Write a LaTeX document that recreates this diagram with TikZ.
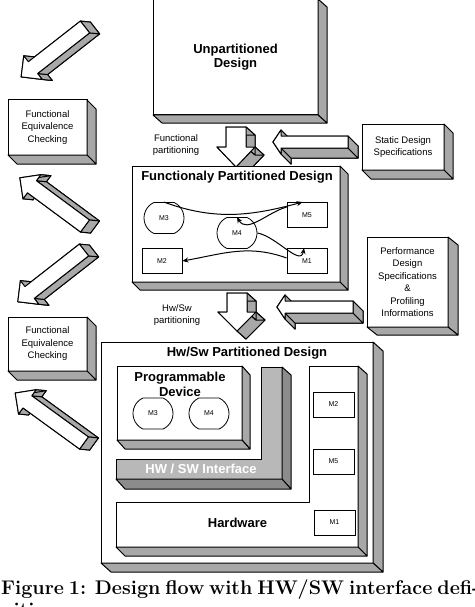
\documentclass[tikz,border=0pt]{standalone}
\usepackage{fontspec}
\setsansfont{Liberation Sans}
\usetikzlibrary{arrows.meta,shapes.misc}

\definecolor{sidegrey}{gray}{0.66}
\definecolor{ifacefront}{gray}{0.72}
\definecolor{ifaceside}{gray}{0.55}

\tikzset{
  slab/.style={draw, fill=white, line width=1pt, inner sep=0pt, outer sep=0pt, align=center},
  face/.style={draw, fill=sidegrey, line width=1pt, line join=round},
  outline/.style={draw, line width=1pt, line join=round},
  title/.style={font=\sffamily\bfseries\fontsize{13}{14.5}\selectfont, align=center},
  note/.style={font=\sffamily\fontsize{9.5}{12.5}\selectfont, align=center},
  modbox/.style={draw, line width=0.8pt, inner sep=0pt, minimum width=40pt, minimum height=25pt, font=\sffamily\fontsize{7}{8}\selectfont},
  modblob/.style={modbox, rounded rectangle, rounded rectangle arc length=130, minimum height=31pt},
  flow/.style={-{Stealth[length=6pt,width=5pt]}, line width=1pt},
}

% side and bottom faces of a slab node
\newcommand{\slabdepth}[2][9,9]{%
  \draw[face] (#2.north east) -- ++(#1) -- ([shift={(#1)}]#2.south east) -- (#2.south east) -- cycle;
  \draw[face] (#2.south west) -- ++(#1) -- ([shift={(#1)}]#2.south east) -- (#2.south east) -- cycle;}

% extruded arrow: tail, angle, length, shaft half width, head half width, head length, extrusion
\newcommand{\fatarrow}[7]{%
  \begin{scope}[shift={(#1)}, rotate=#2]
    \coordinate (p1) at (0,#4);
    \coordinate (p2) at (#3-#6,#4);
    \coordinate (p3) at (#3-#6,#5);
    \coordinate (p4) at (#3,0);
    \coordinate (p5) at (#3-#6,-#5);
    \coordinate (p6) at (#3-#6,-#4);
    \coordinate (p7) at (0,-#4);
  \end{scope}
  \draw[face] ([shift={(#7)}]p1) -- ([shift={(#7)}]p2) -- ([shift={(#7)}]p3) -- ([shift={(#7)}]p4)
    -- ([shift={(#7)}]p5) -- ([shift={(#7)}]p6) -- ([shift={(#7)}]p7) -- cycle;
  \foreach \i/\j in {1/2,2/3,3/4,4/5,5/6,6/7,7/1}
    \draw[face] (p\i) -- (p\j) -- ([shift={(#7)}]p\j) -- ([shift={(#7)}]p\i) -- cycle;
  \draw[outline, fill=white] (p1) -- (p2) -- (p3) -- (p4) -- (p5) -- (p6) -- (p7) -- cycle;}

\begin{document}
\begin{tikzpicture}[x=1pt, y=-1pt]
  \useasboundingbox (0,0) rectangle (474,607);

  % Unpartitioned design
  \node[slab, title, minimum width=165pt, minimum height=116pt] (undesign) at (235.5,57) {Unpartitioned\\Design};
  \slabdepth[9,8]{undesign}

  % Functional partitioning
  \fatarrow{236,127}{270}{40}{10}{19}{20}{9,8}
  \node[note] (fplabel) at (176,145) {Functional\\partitioning};

  % Static design specifications
  \node[slab, note, minimum width=82pt, minimum height=46pt] (static) at (403,147) {Static Design\\Specifications};
  \slabdepth{static}
  \fatarrow{348,142}{180}{75}{6}{12}{8}{10,10}

  % Functionaly partitioned design
  \node[slab, minimum width=208pt, minimum height=116pt] (fpdesign) at (236,224) {};
  \slabdepth[8,8]{fpdesign}
  \node[title] (fptitle) at (237,177) {Functionaly Partitioned Design};
  \node[modblob] (fm3) at (164,218) {M3};
  \node[modblob] (fm4) at (237,233) {M4};
  \node[modbox] (fm5) at (307,215) {M5};
  \node[modbox] (fm1) at (307,261) {M1};
  \node[modbox] (fm2) at (162,261) {M2};
  \draw[flow] (fm3.north) to[out=-20, in=195] ([shift={(16,0)}]fm5.north west);
  \draw[flow] ([shift={(0,5)}]fm5.north west) to[out=195, in=-60] (fm4.north);
  \draw[flow] (fm4.east) to[out=-10, in=-100] ([shift={(-3,0)}]fm1.north);
  \draw[flow] ([shift={(0,-3)}]fm1.west) to[out=160, in=10] (fm2.east);

  % Performance design specifications
  \node[slab, note, minimum width=81pt, minimum height=90pt] (perf) at (407.5,282) {Performance\\Design\\Specifications\\\&\\Profiling\\Informations};
  \slabdepth[10,8]{perf}
  \fatarrow{353,307}{180}{76}{6}{12}{8}{10,10}

  % Hw/Sw partitioning
  \fatarrow{237,293}{270}{38}{10}{19}{19}{9,8}
  \node[note] (hslabel) at (177,315) {Hw/Sw\\partitioning};

  % Equivalence checking
  \node[slab, note, minimum width=79pt, minimum height=55pt] (eqtop) at (47.5,127.5) {Functional\\Equivalence\\Checking};
  \slabdepth{eqtop}
  \node[slab, note, minimum width=79pt, minimum height=54pt] (eqbot) at (47.5,344) {Functional\\Equivalence\\Checking};
  \slabdepth{eqbot}
  \fatarrow{85,27}{218}{81}{7.5}{15}{15}{10,1}
  \fatarrow{85,226}{143.5}{81}{7.5}{15}{15}{10,1}
  \fatarrow{84,250}{218}{84}{7.5}{15}{15}{10,1}
  \fatarrow{84,443}{144}{85}{7.5}{15}{15}{10,1}

  % Hw/Sw partitioned design
  \node[slab, minimum width=272pt, minimum height=221pt] (hsdesign) at (237,452.5) {};
  \slabdepth[10,9]{hsdesign}
  \node[title] (hstitle) at (247,353) {Hw/Sw Partitioned Design};

  % Hardware
  \draw[outline, fill=white] (309,366) -- (358,366) -- (358,547) -- (116,547) -- (116,502) -- (309,502) -- cycle;
  \draw[face] (358,366) -- (367,374) -- (367,556) -- (358,547) -- cycle;
  \draw[face] (116,547) -- (125,556) -- (367,556) -- (358,547) -- cycle;
  \node[title] (hwtitle) at (237.5,523) {Hardware};
  \node[modbox, minimum width=41pt] (hm2) at (333.5,404.5) {M2};
  \node[modbox, minimum width=41pt] (hm5) at (333.5,461.5) {M5};
  \node[modbox, minimum width=41pt] (hm1) at (334.5,522.5) {M1};

  % HW / SW interface
  \draw[outline, fill=ifacefront] (261,367) -- (282,367) -- (282,479) -- (116,479) -- (116,459) -- (261,459) -- cycle;
  \draw[outline, fill=ifaceside] (282,367) -- (291,375) -- (291,489) -- (282,479) -- cycle;
  \draw[outline, fill=ifaceside] (116,479) -- (125,489) -- (291,489) -- (282,479) -- cycle;
  \node[title, text=white] (iftitle) at (201,469) {HW / SW Interface};

  % Programmable device
  \node[slab, minimum width=125pt, minimum height=74pt] (progdev) at (179.5,403) {};
  \slabdepth[8,9]{progdev}
  \node[title] (pdtitle) at (180,384.5) {Programmable\\Device};
  \node[modblob] (pm3) at (153,413.5) {M3};
  \node[modblob] (pm4) at (209,413.5) {M4};

  % Caption
  \node[anchor=base west, inner sep=0pt, font=\bfseries\fontsize{19.75}{21.7}\selectfont] (caption) at (1,594)
    {\makebox[472pt][s]{Figure 1: Design flow with HW/SW interface defi-}};
  \node[anchor=base west, inner sep=0pt, font=\bfseries\fontsize{19.75}{21.7}\selectfont] (caption2) at (1,616) {nition};
\end{tikzpicture}
\end{document}
